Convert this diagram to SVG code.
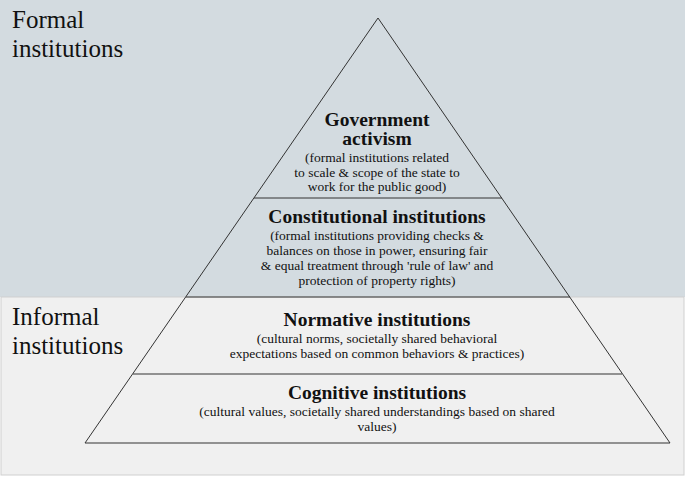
<svg xmlns="http://www.w3.org/2000/svg" width="685" height="478" viewBox="0 0 685 478">
<style>
text{font-family:"Liberation Serif","Times New Roman",serif;fill:#111;text-anchor:middle}
.t{font-size:19.5px;font-weight:bold}
.s{font-size:13.5px}
.l{font-size:25px;text-anchor:start}
.ln{stroke:#333;stroke-width:1;fill:none}
</style>
<rect x="0" y="0" width="685" height="297" fill="#d3dbe0"/>
<rect x="1" y="297" width="683" height="178" fill="#f0f0f0" stroke="#d0d0d0"/>
<g id="pyramid">
<polygon class="ln" points="378,18 85,443 670,443"/>
</g>
<g id="connectors">
<line class="ln" x1="254" y1="198" x2="502" y2="198"/>
<line class="ln" x1="186" y1="297" x2="570" y2="297"/>
<line class="ln" x1="133" y1="374" x2="622" y2="374"/>
</g>
<g id="formal"><text class="l" x="12" y="28">Formal</text><text class="l" x="12" y="57">institutions</text></g>
<g id="informal"><text class="l" x="12" y="325">Informal</text><text class="l" x="12" y="354">institutions</text></g>
<g id="gov">
<text class="t" x="377" y="126">Government</text>
<text class="t" x="377" y="145">activism</text>
<text class="s" x="377" y="162">(formal institutions related</text>
<text class="s" x="377" y="177">to scale &amp; scope of the state to</text>
<text class="s" x="377" y="191">work for the public good)</text>
</g>
<g id="const">
<text class="t" x="377" y="223">Constitutional institutions</text>
<text class="s" x="377" y="240">(formal institutions providing checks &amp;</text>
<text class="s" x="377" y="255">balances on those in power, ensuring fair</text>
<text class="s" x="377" y="270">&amp; equal treatment through 'rule of law' and</text>
<text class="s" x="377" y="285">protection of property rights)</text>
</g>
<g id="norm">
<text class="t" x="377" y="326">Normative institutions</text>
<text class="s" x="377" y="343">(cultural norms, societally shared behavioral</text>
<text class="s" x="377" y="358">expectations based on common behaviors &amp; practices)</text>
</g>
<g id="cog">
<text class="t" x="377" y="399">Cognitive institutions</text>
<text class="s" x="377" y="416">(cultural values, societally shared understandings based on shared</text>
<text class="s" x="377" y="431">values)</text>
</g>
</svg>
